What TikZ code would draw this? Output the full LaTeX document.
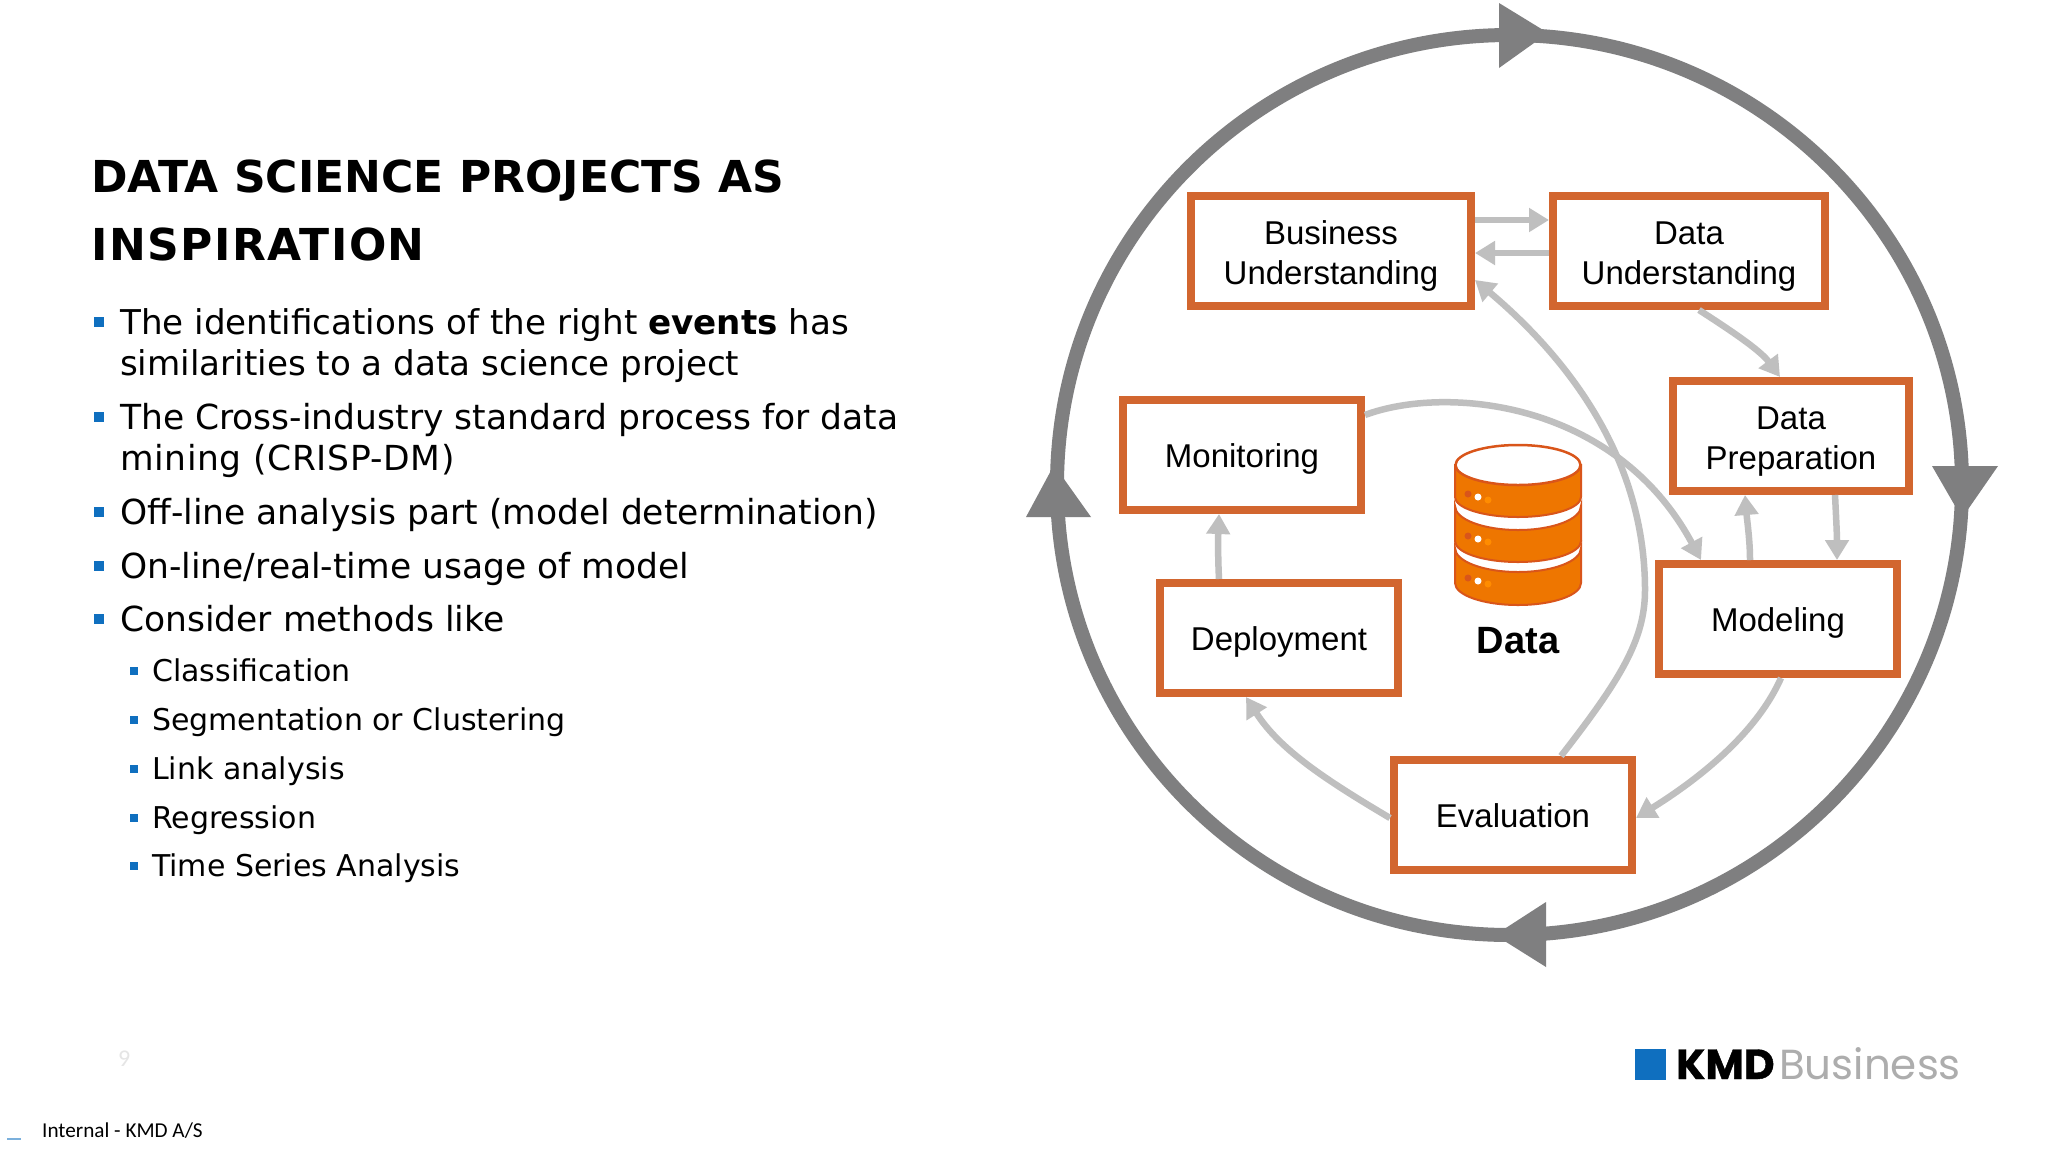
\documentclass[tikz,border=0pt]{standalone}
\usepackage{fontspec}
\setmainfont{DejaVu Sans}
\newfontfamily\boxfont{Liberation Sans}
\newfontfamily\footfont{Carlito}
\newfontfamily\logofont[BoldFeatures={FakeBold=1}]{Poppins}
\usetikzlibrary{arrows.meta}
\definecolor{boxorange}{HTML}{D2662F}
\definecolor{ringgray}{HTML}{7F7F80}
\definecolor{flowgray}{HTML}{BFBFBF}
\definecolor{bulletblue}{HTML}{0F6FBF}
\definecolor{dbfill}{HTML}{EE7600}
\definecolor{dbline}{HTML}{D9551A}
\newcommand{\boxstrut}{\rule{0pt}{33pt}}
\tikzset{
	phasebox/.style={draw=boxorange, line width=8pt, fill=white, minimum width=#1, minimum height=110pt, inner sep=0pt, align=center, font=\boxfont\fontsize{33}{40}\selectfont},
	oneline/.style={text height=24pt, text depth=0pt},
	flow/.style={draw=flowgray, line width=6.5pt, -{Triangle[length=20pt, width=23pt]}},
	titletext/.style={anchor=base west, inner sep=0pt, font=\fontsize{44}{68}\selectfont\bfseries},
	maintext/.style={anchor=base west, inner sep=0pt, font=\fontsize{34.5}{41.5}\selectfont},
	subtext/.style={anchor=base west, inner sep=0pt, font=\fontsize{30}{33}\selectfont},
	mainmark/.style={fill=bulletblue, minimum size=10pt, inner sep=0pt},
	submark/.style={fill=bulletblue, minimum size=8pt, inner sep=0pt},
	dbsection/.style={fill=dbfill, draw=dbline, line width=2pt},
	dbdot/.style={circle, minimum size=7pt, inner sep=0pt}
}
\begin{document}
\begin{tikzpicture}[x=1pt, y=-1pt]
	\useasboundingbox (0,0) rectangle (2048,1152);
	\fill[white] (0,0) rectangle (2048,1152);

	% slide text
	\node[titletext] (title1) at (91,192) {DATA SCIENCE PROJECTS AS};
	\node[titletext] (title2) at (91,260) {\addfontfeature{LetterSpace=3.4}INSPIRATION};
	\node[mainmark] (mark1) at (99,322) {};
	\node[maintext, font=\fontsize{34.15}{41.5}\selectfont] (line1a) at (120,334) {The identifications of the right \textbf{events} has};
	\node[maintext, font=\fontsize{34.15}{41.5}\selectfont] (line1b) at (120,375) {similarities to a data science project};
	\node[mainmark] (mark2) at (99,417) {};
	\node[maintext] (line2a) at (120,429) {The Cross-industry standard process for data};
	\node[maintext] (line2b) at (120,470) {\addfontfeature{LetterSpace=1.8}mining (CRISP-DM)};
	\node[mainmark] (mark3) at (99,512) {};
	\node[maintext] (line3) at (120,524) {Off-line analysis part (model determination)};
	\node[mainmark] (mark4) at (99,566) {};
	\node[maintext] (line4) at (120,578) {On-line/real-time usage of model};
	\node[mainmark] (mark5) at (99,619) {};
	\node[maintext] (line5) at (120,631) {Consider methods like};
	\node[submark] (mark6) at (134,671) {};
	\node[subtext] (sub1) at (152,681) {Classification};
	\node[submark] (mark7) at (134,720) {};
	\node[subtext] (sub2) at (152,730) {Segmentation or Clustering};
	\node[submark] (mark8) at (134,769) {};
	\node[subtext] (sub3) at (152,779) {Link analysis};
	\node[submark] (mark9) at (134,818) {};
	\node[subtext] (sub4) at (152,828) {Regression};
	\node[submark] (mark10) at (134,866) {};
	\node[subtext] (sub5) at (152,876) {Time Series Analysis};

	% outer ring
	\draw[ringgray, line width=14pt] (1509.5,485) circle[x radius=452.5pt, y radius=450pt];
	\fill[ringgray] (1499,3) -- (1548,33) -- (1499,68) -- cycle;
	\fill[ringgray] (1932,466) -- (1998,466) -- (1962,518) -- cycle;
	\fill[ringgray] (1546,902) -- (1495,935) -- (1546,967) -- cycle;
	\fill[ringgray] (1026,517) -- (1054,465) -- (1091,517) -- cycle;

	% phases
	\node[phasebox=280pt] (business) at (1331,251) {\boxstrut Business\\Understanding};
	\node[phasebox=272pt] (understanding) at (1689,251) {\boxstrut Data\\Understanding};
	\node[phasebox=236pt] (preparation) at (1791,436) {\boxstrut Data\\Preparation};
	\node[phasebox=238pt, oneline] (modeling) at (1778,619) {Modeling};
	\node[phasebox=238pt, oneline] (evaluation) at (1513,815) {Evaluation};
	\node[phasebox=238pt, oneline] (deployment) at (1279,638) {Deployment};
	\node[phasebox=238pt, oneline] (monitoring) at (1242,455) {Monitoring};

	% flows
	\draw[flow] ([yshift=31pt]business.east) -- ([yshift=31pt]understanding.west);
	\draw[flow] ([yshift=-2pt]understanding.west) -- ([yshift=-2pt]business.east);
	\draw[flow] ([xshift=10pt]understanding.south) .. controls (1730,330) and (1760,350) .. ([xshift=-11pt]preparation.north);
	\draw[flow] ([xshift=-28pt]modeling.north) .. controls (1750,540) and (1747,520) .. ([xshift=-46pt]preparation.south);
	\draw[flow] ([xshift=44pt]preparation.south) .. controls (1836,515) and (1837,535) .. ([xshift=59pt]modeling.north);
	\draw[flow] ([xshift=3pt]modeling.south) .. controls (1758,730) and (1705,775) .. ([yshift=-3pt]evaluation.east);
	\draw[flow] ([yshift=-3pt]evaluation.west) .. controls (1326,780) and (1280,750) .. ([xshift=-33pt]deployment.south);
	\draw[flow] ([xshift=-60pt]deployment.north) .. controls (1218,560) and (1218,540) .. ([xshift=-23pt]monitoring.south);
	\draw[flow] ([yshift=40pt]monitoring.east) .. controls (1445,385) and (1615,400) .. ([xshift=-77pt]modeling.north);
	\draw[flow] ([xshift=48pt]evaluation.north) .. controls (1620,680) and (1645,640) .. (1645,590) .. controls (1645,460) and (1570,360) .. ([yshift=-29pt]business.east);

	% data store
	\path[dbsection] (1455,548) -- (1455,583) arc[start angle=180, end angle=360, x radius=63pt, y radius=22pt] -- (1581,548) arc[start angle=0, end angle=-180, x radius=63pt, y radius=24pt] -- cycle;
	\path[dbsection] (1455,506) -- (1455,541) arc[start angle=180, end angle=360, x radius=63pt, y radius=21pt] -- (1581,506) arc[start angle=0, end angle=-180, x radius=63pt, y radius=24pt] -- cycle;
	\path[dbsection] (1455,465) -- (1455,497) arc[start angle=180, end angle=360, x radius=63pt, y radius=20pt] -- (1581,465) -- cycle;
	\path[fill=white, draw=dbline, line width=2.5pt] (1518,465) circle[x radius=62.5pt, y radius=20pt];
	\foreach \dboff in {0,42,84}{
		\node[dbdot, fill=dbline] at (1468,494+\dboff) {};
		\node[dbdot, fill=white] at (1478,497+\dboff) {};
		\node[dbdot, fill=orange!90!yellow] at (1488,500+\dboff) {};
	}
	\node[anchor=base, inner sep=0pt, font=\boxfont\fontsize{38}{40}\selectfont\bfseries] (datalabel) at (1518,653) {Data};

	% footer
	\node[anchor=base west, inner sep=0pt, text=black!10, font=\footfont\fontsize{24}{28}\selectfont] (pagenr) at (118,1066) {9};
	\node[anchor=base west, inner sep=0pt, font=\footfont\fontsize{21.2}{26}\selectfont] (classification) at (42,1137) {Internal - KMD A/S};
	\draw[bulletblue!55, line width=2pt] (7,1139) -- (21,1139);

	% logo
	\fill[bulletblue] (1635,1049) rectangle (1666,1080);
	\node[anchor=base west, inner sep=0pt, font=\logofont\fontsize{42}{48}\selectfont\bfseries] (logokmd) at (1676,1079) {KMD};
	\node[anchor=base west, inner sep=0pt, text=black!32, font=\logofont\fontsize{42}{48}\selectfont] (logobusiness) at (1779,1079) {Business};
\end{tikzpicture}
\end{document}
